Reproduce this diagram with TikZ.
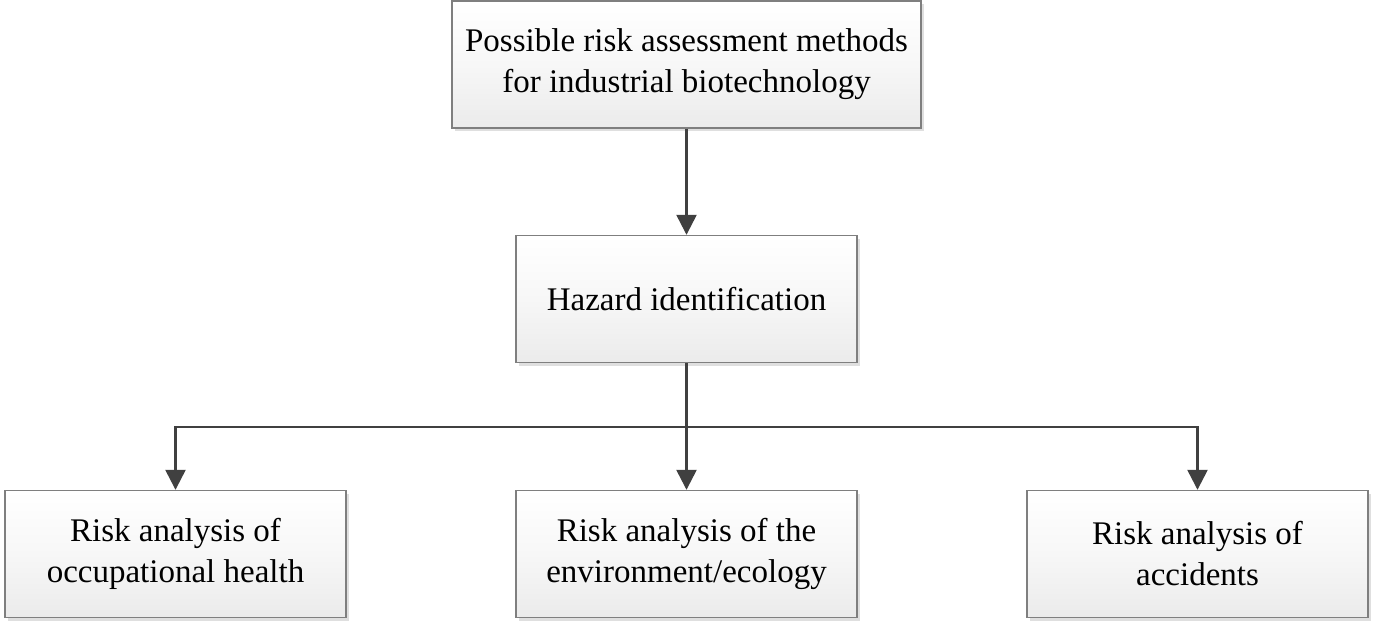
\documentclass[tikz,border=0pt]{standalone}
\usepackage{fontspec}
\setmainfont{Liberation Serif}
\usetikzlibrary{arrows.meta,shadows}
\definecolor{boxline}{HTML}{7F7F7F}
\definecolor{arrline}{HTML}{404040}
\definecolor{boxbot}{HTML}{EBEBEB}
\begin{document}
\begin{tikzpicture}[x=0.5pt,y=-0.5pt,
  box/.style={draw=boxline,line width=0.7pt,top color=white,bottom color=boxbot,
    middle color=white!60!boxbot,
    drop shadow={shadow xshift=1.5pt,shadow yshift=-1.5pt,opacity=0.25,fill=gray},
    align=center,inner sep=0pt,font=\fontsize{16.5pt}{20.5pt}\selectfont},
  smallbox/.style={box,minimum width=170.5pt,minimum height=63.5pt},
  conn/.style={draw=arrline,line width=1.2pt},
  arr/.style={conn,-{Triangle[width=10pt,length=10pt]}}]
\useasboundingbox (0,0) rectangle (1375,632);
\node[box,minimum width=234.5pt,minimum height=63.5pt] (top) at (686.5,64.5)
  {Possible risk assessment methods\\for industrial biotechnology};
\node[smallbox] (haz) at (686.5,299) {Hazard identification};
\node[smallbox] (occ) at (175.5,554) {Risk analysis of\\occupational health};
\node[smallbox] (env) at (686.5,554) {Risk analysis of the\\environment/ecology};
\node[smallbox] (acc) at (1197.5,554) {Risk analysis of\\accidents};
\coordinate (j) at (686.5,427);
\draw[arr] (top) -- (haz);
\draw[conn] (haz.south) -- (j);
\draw[arr] (j) -| (occ.north);
\draw[arr] (j) -| (acc.north);
\draw[arr] (j) -- (env.north);
\end{tikzpicture}
\end{document}
